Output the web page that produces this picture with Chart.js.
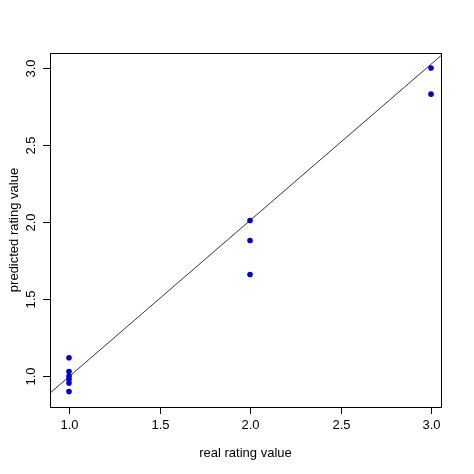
<!DOCTYPE html>
<html><head><meta charset="utf-8">
<script src="https://cdn.jsdelivr.net/npm/chart.js@4/dist/chart.umd.min.js"></script>
<style>html,body{margin:0;background:#fff}#wrap{width:474px;height:474px}</style>
</head><body><div id="wrap"><canvas id="chart"></canvas></div>
<script>
const realValues = [1, 1, 1, 1, 1, 1, 2, 2, 2, 3, 3];
const predictedValues = [1.12, 1.03, 1.0, 0.98, 0.955, 0.90, 2.01, 1.88, 1.66, 3.0, 2.83];
const lineX = [0.895, 3.055];
const lineY = [0.89, 3.08];
const xTicks = ["1.0", "1.5", "2.0", "2.5", "3.0"];
const yTicks = ["1.0", "1.5", "2.0", "2.5", "3.0"];

const font = "13px 'Liberation Sans', Arial, sans-serif";

const rAxes = {
  id: "rAxes",
  afterDraw(c) {
    const g = c.ctx, a = c.chartArea, xs = c.scales.x, ys = c.scales.y;
    g.save();
    g.strokeStyle = "#000"; g.lineWidth = 1; g.fillStyle = "#000"; g.font = font;
    g.strokeRect(a.left + 0.5, a.top + 0.5, a.right - a.left, a.bottom - a.top);
    g.textAlign = "center"; g.textBaseline = "top";
    xTicks.forEach(t => {
      const px = Math.round(xs.getPixelForValue(+t)) + 0.5;
      g.beginPath(); g.moveTo(px, a.bottom); g.lineTo(px, a.bottom + 7); g.stroke();
      g.fillText(t, px, a.bottom + 12);
    });
    yTicks.forEach(t => {
      const py = Math.round(ys.getPixelForValue(+t)) + 0.5;
      g.beginPath(); g.moveTo(a.left, py); g.lineTo(a.left - 7, py); g.stroke();
      g.save(); g.translate(a.left - 12, py); g.rotate(-Math.PI / 2);
      g.textBaseline = "bottom"; g.fillText(t, 0, 0); g.restore();
    });
    g.fillText("real rating value", (a.left + a.right) / 2, 447);
    g.save(); g.translate(14, (a.top + a.bottom) / 2); g.rotate(-Math.PI / 2);
    g.textBaseline = "middle"; g.fillText("predicted rating value", 0, 0); g.restore();
    g.restore();
  }
};

new Chart(document.getElementById("chart"), {
  type: "scatter",
  data: {
    datasets: [
      {
        data: realValues.map((x, i) => ({ x, y: predictedValues[i] })),
        backgroundColor: "#0000cc", borderColor: "#0000cc",
        pointRadius: 2.8, pointBorderWidth: 0
      },
      {
        type: "line",
        data: lineX.map((x, i) => ({ x, y: lineY[i] })),
        borderColor: "#000", borderWidth: 0.8, pointRadius: 0, fill: false
      }
    ]
  },
  options: {
    responsive: true, maintainAspectRatio: false, animation: false,
    layout: { padding: { left: 50, top: 53, right: 33, bottom: 67 } },
    plugins: { legend: { display: false }, tooltip: { enabled: false } },
    scales: {
      x: { type: "linear", min: 0.895, max: 3.055, display: false },
      y: { type: "linear", min: 0.80, max: 3.097, display: false }
    }
  },
  plugins: [rAxes]
});
</script></body></html>
